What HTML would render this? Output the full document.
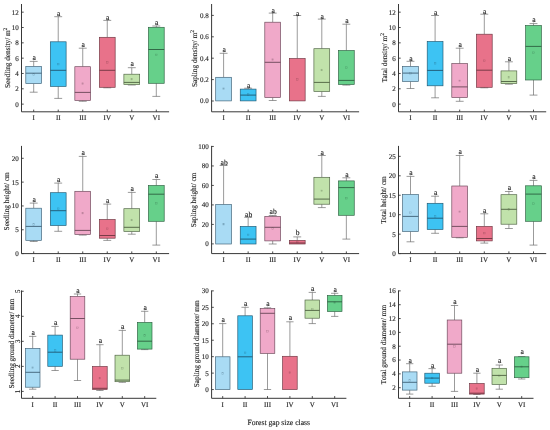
<!DOCTYPE html>
<html lang="en"><head><meta charset="utf-8"><title>Forest gap size class box plots</title>
<style>
html,body{margin:0;padding:0;background:#fff;}
body{width:550px;height:430px;overflow:hidden;}
svg{display:block;font-family:"Liberation Serif","Times New Roman",serif;fill:#222;}
svg text{text-rendering:geometricPrecision;fill:#1e1e1e;stroke:#1e1e1e;stroke-width:0.13px;}
</style></head><body>
<svg width="550" height="430" viewBox="0 0 550 430">
<rect width="550" height="430" fill="#ffffff"/>
<g>
<path d="M33.7 66.4V61.4M29.75 61.4H37.65" stroke="#646464" stroke-width="0.65" fill="none"/>
<path d="M33.7 83.6V92.2M29.75 92.2H37.65" stroke="#646464" stroke-width="0.65" fill="none"/>
<rect x="25.8" y="66.4" width="15.8" height="17.2" fill="#a9dbf4" stroke="#3d5f74" stroke-width="0.65"/>
<path d="M25.8 73.2H41.6" stroke="#3d5f74" stroke-width="0.9"/>
<rect x="32.9" y="73.7" width="1.6" height="1.6" fill="none" stroke="#3d5f74" stroke-opacity="0.4" stroke-width="0.45"/>
<text transform="translate(34.2 60.4) scale(1.0 1)" font-size="7.6" text-anchor="middle">a</text>
<path d="M58.22 41.8V16.7M54.27 16.7H62.17" stroke="#646464" stroke-width="0.65" fill="none"/>
<path d="M58.22 86.4V98.4M54.27 98.4H62.17" stroke="#646464" stroke-width="0.65" fill="none"/>
<rect x="50.32" y="41.8" width="15.8" height="44.6" fill="#3dc3f3" stroke="#20566f" stroke-width="0.65"/>
<path d="M50.32 70.3H66.12" stroke="#20566f" stroke-width="0.9"/>
<rect x="57.42" y="63.3" width="1.6" height="1.6" fill="none" stroke="#20566f" stroke-opacity="0.4" stroke-width="0.45"/>
<text transform="translate(58.72 15.5) scale(1.0 1)" font-size="7.6" text-anchor="middle">a</text>
<path d="M82.74 66.7V48.2M78.79 48.2H86.69" stroke="#646464" stroke-width="0.65" fill="none"/>
<path d="M82.74 100.5V101.3M78.79 101.3H86.69" stroke="#646464" stroke-width="0.65" fill="none"/>
<rect x="74.84" y="66.7" width="15.8" height="33.8" fill="#f0a9c9" stroke="#684556" stroke-width="0.65"/>
<path d="M74.84 92.4H90.64" stroke="#684556" stroke-width="0.9"/>
<rect x="81.94" y="82.8" width="1.6" height="1.6" fill="none" stroke="#684556" stroke-opacity="0.4" stroke-width="0.45"/>
<text transform="translate(83.24 47.3) scale(1.0 1)" font-size="7.6" text-anchor="middle">a</text>
<path d="M107.26 37.3V20.4M103.31 20.4H111.21" stroke="#646464" stroke-width="0.65" fill="none"/>
<path d="M107.26 87.3V87.8M103.31 87.8H111.21" stroke="#646464" stroke-width="0.65" fill="none"/>
<rect x="99.36" y="37.3" width="15.8" height="50" fill="#e8728a" stroke="#6c343f" stroke-width="0.65"/>
<path d="M99.36 70.3H115.16" stroke="#6c343f" stroke-width="0.9"/>
<rect x="106.46" y="61.6" width="1.6" height="1.6" fill="none" stroke="#6c343f" stroke-opacity="0.4" stroke-width="0.45"/>
<text transform="translate(107.76 20.1) scale(1.0 1)" font-size="7.6" text-anchor="middle">a</text>
<path d="M131.78 74.2V67.7M127.83 67.7H135.73" stroke="#646464" stroke-width="0.65" fill="none"/>
<path d="M131.78 84.5V85M127.83 85H135.73" stroke="#646464" stroke-width="0.65" fill="none"/>
<rect x="123.88" y="74.2" width="15.8" height="10.3" fill="#c1e2ab" stroke="#4c6040" stroke-width="0.65"/>
<path d="M123.88 82.4H139.68" stroke="#4c6040" stroke-width="0.9"/>
<rect x="130.98" y="78.3" width="1.6" height="1.6" fill="none" stroke="#4c6040" stroke-opacity="0.4" stroke-width="0.45"/>
<text transform="translate(132.28 66) scale(1.0 1)" font-size="7.6" text-anchor="middle">a</text>
<path d="M156.3 27.3V26M152.35 26H160.25" stroke="#646464" stroke-width="0.65" fill="none"/>
<path d="M156.3 83.3V96.4M152.35 96.4H160.25" stroke="#646464" stroke-width="0.65" fill="none"/>
<rect x="148.4" y="27.3" width="15.8" height="56" fill="#66d08a" stroke="#2d5f40" stroke-width="0.65"/>
<path d="M148.4 49.5H164.2" stroke="#2d5f40" stroke-width="0.9"/>
<rect x="155.5" y="54.1" width="1.6" height="1.6" fill="none" stroke="#2d5f40" stroke-opacity="0.4" stroke-width="0.45"/>
<text transform="translate(156.8 24.6) scale(1.0 1)" font-size="7.6" text-anchor="middle">a</text>
<path d="M21.5 4.5V111.8H168.6" stroke="#383838" stroke-width="1" fill="none" stroke-linecap="square"/>
<path d="M21.5 104.14h2.2M21.5 88.81h2.2M21.5 73.48h2.2M21.5 58.16h2.2M21.5 42.83h2.2M21.5 27.5h2.2M21.5 12.17h2.2M33.7 111.8v-2.2M58.22 111.8v-2.2M82.74 111.8v-2.2M107.26 111.8v-2.2M131.78 111.8v-2.2M156.3 111.8v-2.2" stroke="#383838" stroke-width="0.9" fill="none"/>
<text transform="translate(18.7 106.59) scale(0.97 1)" font-size="7.22" text-anchor="end">0</text>
<text transform="translate(18.7 91.26) scale(0.97 1)" font-size="7.22" text-anchor="end">2</text>
<text transform="translate(18.7 75.93) scale(0.97 1)" font-size="7.22" text-anchor="end">4</text>
<text transform="translate(18.7 60.61) scale(0.97 1)" font-size="7.22" text-anchor="end">6</text>
<text transform="translate(18.7 45.28) scale(0.97 1)" font-size="7.22" text-anchor="end">8</text>
<text transform="translate(18.7 29.95) scale(0.97 1)" font-size="7.22" text-anchor="end">10</text>
<text transform="translate(18.7 14.62) scale(0.97 1)" font-size="7.22" text-anchor="end">12</text>
<text transform="translate(33.7 120.4) scale(0.97 1)" font-size="7.22" text-anchor="middle">I</text>
<text transform="translate(58.22 120.4) scale(0.97 1)" font-size="7.22" text-anchor="middle">II</text>
<text transform="translate(82.74 120.4) scale(0.97 1)" font-size="7.22" text-anchor="middle">III</text>
<text transform="translate(107.26 120.4) scale(0.97 1)" font-size="7.22" text-anchor="middle">IV</text>
<text transform="translate(131.78 120.4) scale(0.97 1)" font-size="7.22" text-anchor="middle">V</text>
<text transform="translate(156.3 120.4) scale(0.97 1)" font-size="7.22" text-anchor="middle">VI</text>
<text transform="translate(9.5 57.8) rotate(-90) scale(0.97 1)" font-size="7.47" text-anchor="middle">Seedling density/ m<tspan dy="-3" font-size="5.6">2</tspan></text>
</g>
<g>
<path d="M223.6 77.3V53.3M219.65 53.3H227.55" stroke="#646464" stroke-width="0.65" fill="none"/>
<rect x="215.7" y="77.3" width="15.8" height="23.6" fill="#a9dbf4" stroke="#3d5f74" stroke-width="0.65"/>
<rect x="222.8" y="87.9" width="1.6" height="1.6" fill="none" stroke="#3d5f74" stroke-opacity="0.4" stroke-width="0.45"/>
<text transform="translate(224.1 52.4) scale(1.0 1)" font-size="7.6" text-anchor="middle">a</text>
<path d="M248.15 89.1V88.2M244.2 88.2H252.1" stroke="#646464" stroke-width="0.65" fill="none"/>
<rect x="240.25" y="89.1" width="15.8" height="11.8" fill="#3dc3f3" stroke="#20566f" stroke-width="0.65"/>
<path d="M240.25 95.1H256.05" stroke="#20566f" stroke-width="0.9"/>
<rect x="247.35" y="93.7" width="1.6" height="1.6" fill="none" stroke="#20566f" stroke-opacity="0.4" stroke-width="0.45"/>
<text transform="translate(248.65 87.6) scale(1.0 1)" font-size="7.6" text-anchor="middle">a</text>
<path d="M272.7 22.2V13.1M268.75 13.1H276.65" stroke="#646464" stroke-width="0.65" fill="none"/>
<path d="M272.7 97.6V100.5M268.75 100.5H276.65" stroke="#646464" stroke-width="0.65" fill="none"/>
<rect x="264.8" y="22.2" width="15.8" height="75.4" fill="#f0a9c9" stroke="#684556" stroke-width="0.65"/>
<path d="M264.8 62.3H280.6" stroke="#684556" stroke-width="0.9"/>
<rect x="271.9" y="58.8" width="1.6" height="1.6" fill="none" stroke="#684556" stroke-opacity="0.4" stroke-width="0.45"/>
<text transform="translate(273.2 13) scale(1.0 1)" font-size="7.6" text-anchor="middle">a</text>
<path d="M297.25 58.5V15.5M293.3 15.5H301.2" stroke="#646464" stroke-width="0.65" fill="none"/>
<rect x="289.35" y="58.5" width="15.8" height="42.4" fill="#e8728a" stroke="#6c343f" stroke-width="0.65"/>
<rect x="296.45" y="78.7" width="1.6" height="1.6" fill="none" stroke="#6c343f" stroke-opacity="0.4" stroke-width="0.45"/>
<text transform="translate(297.75 15.7) scale(1.0 1)" font-size="7.6" text-anchor="middle">a</text>
<path d="M321.8 48.7V19.1M317.85 19.1H325.75" stroke="#646464" stroke-width="0.65" fill="none"/>
<path d="M321.8 91.5V96.4M317.85 96.4H325.75" stroke="#646464" stroke-width="0.65" fill="none"/>
<rect x="313.9" y="48.7" width="15.8" height="42.8" fill="#c1e2ab" stroke="#4c6040" stroke-width="0.65"/>
<path d="M313.9 82.4H329.7" stroke="#4c6040" stroke-width="0.9"/>
<rect x="321" y="69.2" width="1.6" height="1.6" fill="none" stroke="#4c6040" stroke-opacity="0.4" stroke-width="0.45"/>
<text transform="translate(322.3 19) scale(1.0 1)" font-size="7.6" text-anchor="middle">a</text>
<path d="M346.35 50.5V24.2M342.4 24.2H350.3" stroke="#646464" stroke-width="0.65" fill="none"/>
<path d="M346.35 84.5V85.1M342.4 85.1H350.3" stroke="#646464" stroke-width="0.65" fill="none"/>
<rect x="338.45" y="50.5" width="15.8" height="34" fill="#66d08a" stroke="#2d5f40" stroke-width="0.65"/>
<path d="M338.45 80.4H354.25" stroke="#2d5f40" stroke-width="0.9"/>
<rect x="345.55" y="66.8" width="1.6" height="1.6" fill="none" stroke="#2d5f40" stroke-opacity="0.4" stroke-width="0.45"/>
<text transform="translate(346.85 23) scale(1.0 1)" font-size="7.6" text-anchor="middle">a</text>
<path d="M211.6 4.5V111.8H358.6" stroke="#383838" stroke-width="1" fill="none" stroke-linecap="square"/>
<path d="M211.6 101h2.2M211.6 79.6h2.2M211.6 58.2h2.2M211.6 36.8h2.2M211.6 15.4h2.2M223.6 111.8v-2.2M248.15 111.8v-2.2M272.7 111.8v-2.2M297.25 111.8v-2.2M321.8 111.8v-2.2M346.35 111.8v-2.2" stroke="#383838" stroke-width="0.9" fill="none"/>
<text transform="translate(208.8 103.45) scale(0.97 1)" font-size="7.22" text-anchor="end">0.0</text>
<text transform="translate(208.8 82.05) scale(0.97 1)" font-size="7.22" text-anchor="end">0.2</text>
<text transform="translate(208.8 60.65) scale(0.97 1)" font-size="7.22" text-anchor="end">0.4</text>
<text transform="translate(208.8 39.25) scale(0.97 1)" font-size="7.22" text-anchor="end">0.6</text>
<text transform="translate(208.8 17.85) scale(0.97 1)" font-size="7.22" text-anchor="end">0.8</text>
<text transform="translate(223.6 120.4) scale(0.97 1)" font-size="7.22" text-anchor="middle">I</text>
<text transform="translate(248.15 120.4) scale(0.97 1)" font-size="7.22" text-anchor="middle">II</text>
<text transform="translate(272.7 120.4) scale(0.97 1)" font-size="7.22" text-anchor="middle">III</text>
<text transform="translate(297.25 120.4) scale(0.97 1)" font-size="7.22" text-anchor="middle">IV</text>
<text transform="translate(321.8 120.4) scale(0.97 1)" font-size="7.22" text-anchor="middle">V</text>
<text transform="translate(346.35 120.4) scale(0.97 1)" font-size="7.22" text-anchor="middle">VI</text>
<text transform="translate(197.2 58.5) rotate(-90) scale(0.97 1)" font-size="7.47" text-anchor="middle">Sapling density/ m<tspan dy="-3" font-size="5.6">2</tspan></text>
</g>
<g>
<path d="M410.5 66.4V61.3M406.55 61.3H414.45" stroke="#646464" stroke-width="0.65" fill="none"/>
<path d="M410.5 81.5V88.5M406.55 88.5H414.45" stroke="#646464" stroke-width="0.65" fill="none"/>
<rect x="402.6" y="66.4" width="15.8" height="15.1" fill="#a9dbf4" stroke="#3d5f74" stroke-width="0.65"/>
<path d="M402.6 73.1H418.4" stroke="#3d5f74" stroke-width="0.9"/>
<rect x="409.7" y="72.5" width="1.6" height="1.6" fill="none" stroke="#3d5f74" stroke-opacity="0.4" stroke-width="0.45"/>
<text transform="translate(411 60.7) scale(1.0 1)" font-size="7.6" text-anchor="middle">a</text>
<path d="M435.1 41.5V15.5M431.15 15.5H439.05" stroke="#646464" stroke-width="0.65" fill="none"/>
<path d="M435.1 85.8V97.8M431.15 97.8H439.05" stroke="#646464" stroke-width="0.65" fill="none"/>
<rect x="427.2" y="41.5" width="15.8" height="44.3" fill="#3dc3f3" stroke="#20566f" stroke-width="0.65"/>
<path d="M427.2 70.4H443" stroke="#20566f" stroke-width="0.9"/>
<rect x="434.3" y="62.5" width="1.6" height="1.6" fill="none" stroke="#20566f" stroke-opacity="0.4" stroke-width="0.45"/>
<text transform="translate(435.6 15.2) scale(1.0 1)" font-size="7.6" text-anchor="middle">a</text>
<path d="M459.7 63.6V48.2M455.75 48.2H463.65" stroke="#646464" stroke-width="0.65" fill="none"/>
<path d="M459.7 97.6V101.3M455.75 101.3H463.65" stroke="#646464" stroke-width="0.65" fill="none"/>
<rect x="451.8" y="63.6" width="15.8" height="34" fill="#f0a9c9" stroke="#684556" stroke-width="0.65"/>
<path d="M451.8 86.9H467.6" stroke="#684556" stroke-width="0.9"/>
<rect x="458.9" y="80.1" width="1.6" height="1.6" fill="none" stroke="#684556" stroke-opacity="0.4" stroke-width="0.45"/>
<text transform="translate(460.2 47.2) scale(1.0 1)" font-size="7.6" text-anchor="middle">a</text>
<path d="M484.3 34.2V14.2M480.35 14.2H488.25" stroke="#646464" stroke-width="0.65" fill="none"/>
<path d="M484.3 87.3V87.8M480.35 87.8H488.25" stroke="#646464" stroke-width="0.65" fill="none"/>
<rect x="476.4" y="34.2" width="15.8" height="53.1" fill="#e8728a" stroke="#6c343f" stroke-width="0.65"/>
<path d="M476.4 70.2H492.2" stroke="#6c343f" stroke-width="0.9"/>
<rect x="483.5" y="59.9" width="1.6" height="1.6" fill="none" stroke="#6c343f" stroke-opacity="0.4" stroke-width="0.45"/>
<text transform="translate(484.8 14.4) scale(1.0 1)" font-size="7.6" text-anchor="middle">a</text>
<path d="M508.9 70.9V61.8M504.95 61.8H512.85" stroke="#646464" stroke-width="0.65" fill="none"/>
<path d="M508.9 83.6V84.2M504.95 84.2H512.85" stroke="#646464" stroke-width="0.65" fill="none"/>
<rect x="501" y="70.9" width="15.8" height="12.7" fill="#c1e2ab" stroke="#4c6040" stroke-width="0.65"/>
<path d="M501 81.5H516.8" stroke="#4c6040" stroke-width="0.9"/>
<rect x="508.1" y="76.5" width="1.6" height="1.6" fill="none" stroke="#4c6040" stroke-opacity="0.4" stroke-width="0.45"/>
<text transform="translate(509.4 61.3) scale(1.0 1)" font-size="7.6" text-anchor="middle">a</text>
<path d="M533.5 25.5V23.6M529.55 23.6H537.45" stroke="#646464" stroke-width="0.65" fill="none"/>
<path d="M533.5 80V95.1M529.55 95.1H537.45" stroke="#646464" stroke-width="0.65" fill="none"/>
<rect x="525.6" y="25.5" width="15.8" height="54.5" fill="#66d08a" stroke="#2d5f40" stroke-width="0.65"/>
<path d="M525.6 46.4H541.4" stroke="#2d5f40" stroke-width="0.9"/>
<rect x="532.7" y="51.9" width="1.6" height="1.6" fill="none" stroke="#2d5f40" stroke-opacity="0.4" stroke-width="0.45"/>
<text transform="translate(534 21.8) scale(1.0 1)" font-size="7.6" text-anchor="middle">a</text>
<path d="M398.5 4.5V111.8H545.7" stroke="#383838" stroke-width="1" fill="none" stroke-linecap="square"/>
<path d="M398.5 104.14h2.2M398.5 88.81h2.2M398.5 73.48h2.2M398.5 58.16h2.2M398.5 42.83h2.2M398.5 27.5h2.2M398.5 12.17h2.2M410.5 111.8v-2.2M435.1 111.8v-2.2M459.7 111.8v-2.2M484.3 111.8v-2.2M508.9 111.8v-2.2M533.5 111.8v-2.2" stroke="#383838" stroke-width="0.9" fill="none"/>
<text transform="translate(395.7 106.59) scale(0.97 1)" font-size="7.22" text-anchor="end">0</text>
<text transform="translate(395.7 91.26) scale(0.97 1)" font-size="7.22" text-anchor="end">2</text>
<text transform="translate(395.7 75.93) scale(0.97 1)" font-size="7.22" text-anchor="end">4</text>
<text transform="translate(395.7 60.61) scale(0.97 1)" font-size="7.22" text-anchor="end">6</text>
<text transform="translate(395.7 45.28) scale(0.97 1)" font-size="7.22" text-anchor="end">8</text>
<text transform="translate(395.7 29.95) scale(0.97 1)" font-size="7.22" text-anchor="end">10</text>
<text transform="translate(395.7 14.62) scale(0.97 1)" font-size="7.22" text-anchor="end">12</text>
<text transform="translate(410.5 120.4) scale(0.97 1)" font-size="7.22" text-anchor="middle">I</text>
<text transform="translate(435.1 120.4) scale(0.97 1)" font-size="7.22" text-anchor="middle">II</text>
<text transform="translate(459.7 120.4) scale(0.97 1)" font-size="7.22" text-anchor="middle">III</text>
<text transform="translate(484.3 120.4) scale(0.97 1)" font-size="7.22" text-anchor="middle">IV</text>
<text transform="translate(508.9 120.4) scale(0.97 1)" font-size="7.22" text-anchor="middle">V</text>
<text transform="translate(533.5 120.4) scale(0.97 1)" font-size="7.22" text-anchor="middle">VI</text>
<text transform="translate(386.8 57.7) rotate(-90) scale(0.97 1)" font-size="7.47" text-anchor="middle">Tatal density/ m<tspan dy="-3" font-size="5.6">2</tspan></text>
</g>
<g>
<path d="M33.7 208.2V203.1M29.75 203.1H37.65" stroke="#646464" stroke-width="0.65" fill="none"/>
<path d="M33.7 240.4V241.5M29.75 241.5H37.65" stroke="#646464" stroke-width="0.65" fill="none"/>
<rect x="25.8" y="208.2" width="15.8" height="32.2" fill="#a9dbf4" stroke="#3d5f74" stroke-width="0.65"/>
<path d="M25.8 226.4H41.6" stroke="#3d5f74" stroke-width="0.9"/>
<rect x="32.9" y="223.7" width="1.6" height="1.6" fill="none" stroke="#3d5f74" stroke-opacity="0.4" stroke-width="0.45"/>
<text transform="translate(34.2 201.8) scale(1.0 1)" font-size="7.6" text-anchor="middle">a</text>
<path d="M58.22 192.7V183.1M54.27 183.1H62.17" stroke="#646464" stroke-width="0.65" fill="none"/>
<path d="M58.22 225.5V231.3M54.27 231.3H62.17" stroke="#646464" stroke-width="0.65" fill="none"/>
<rect x="50.32" y="192.7" width="15.8" height="32.8" fill="#3dc3f3" stroke="#20566f" stroke-width="0.65"/>
<path d="M50.32 210.7H66.12" stroke="#20566f" stroke-width="0.9"/>
<rect x="57.42" y="207.9" width="1.6" height="1.6" fill="none" stroke="#20566f" stroke-opacity="0.4" stroke-width="0.45"/>
<text transform="translate(58.72 181.8) scale(1.0 1)" font-size="7.6" text-anchor="middle">a</text>
<path d="M82.74 191.3V156.4M78.79 156.4H86.69" stroke="#646464" stroke-width="0.65" fill="none"/>
<path d="M82.74 234.5V235.1M78.79 235.1H86.69" stroke="#646464" stroke-width="0.65" fill="none"/>
<rect x="74.84" y="191.3" width="15.8" height="43.2" fill="#f0a9c9" stroke="#684556" stroke-width="0.65"/>
<path d="M74.84 230.4H90.64" stroke="#684556" stroke-width="0.9"/>
<rect x="81.94" y="212.3" width="1.6" height="1.6" fill="none" stroke="#684556" stroke-opacity="0.4" stroke-width="0.45"/>
<text transform="translate(83.24 155.1) scale(1.0 1)" font-size="7.6" text-anchor="middle">a</text>
<path d="M107.26 219.5V204.1M103.31 204.1H111.21" stroke="#646464" stroke-width="0.65" fill="none"/>
<path d="M107.26 238.2V240.4M103.31 240.4H111.21" stroke="#646464" stroke-width="0.65" fill="none"/>
<rect x="99.36" y="219.5" width="15.8" height="18.7" fill="#e8728a" stroke="#6c343f" stroke-width="0.65"/>
<path d="M99.36 235.5H115.16" stroke="#6c343f" stroke-width="0.9"/>
<rect x="106.46" y="227.9" width="1.6" height="1.6" fill="none" stroke="#6c343f" stroke-opacity="0.4" stroke-width="0.45"/>
<text transform="translate(107.76 202.8) scale(1.0 1)" font-size="7.6" text-anchor="middle">a</text>
<path d="M131.78 208.7V192.4M127.83 192.4H135.73" stroke="#646464" stroke-width="0.65" fill="none"/>
<path d="M131.78 231.5V234.2M127.83 234.2H135.73" stroke="#646464" stroke-width="0.65" fill="none"/>
<rect x="123.88" y="208.7" width="15.8" height="22.8" fill="#c1e2ab" stroke="#4c6040" stroke-width="0.65"/>
<path d="M123.88 227.3H139.68" stroke="#4c6040" stroke-width="0.9"/>
<rect x="130.98" y="219.2" width="1.6" height="1.6" fill="none" stroke="#4c6040" stroke-opacity="0.4" stroke-width="0.45"/>
<text transform="translate(132.28 191.1) scale(1.0 1)" font-size="7.6" text-anchor="middle">a</text>
<path d="M156.3 185.5V179.5M152.35 179.5H160.25" stroke="#646464" stroke-width="0.65" fill="none"/>
<path d="M156.3 221.3V245.1M152.35 245.1H160.25" stroke="#646464" stroke-width="0.65" fill="none"/>
<rect x="148.4" y="185.5" width="15.8" height="35.8" fill="#66d08a" stroke="#2d5f40" stroke-width="0.65"/>
<path d="M148.4 194.2H164.2" stroke="#2d5f40" stroke-width="0.9"/>
<rect x="155.5" y="202.5" width="1.6" height="1.6" fill="none" stroke="#2d5f40" stroke-opacity="0.4" stroke-width="0.45"/>
<text transform="translate(156.8 178.2) scale(1.0 1)" font-size="7.6" text-anchor="middle">a</text>
<path d="M21.5 146.4V253.6H168.6" stroke="#383838" stroke-width="1" fill="none" stroke-linecap="square"/>
<path d="M21.5 253.6h2.2M21.5 229.78h2.2M21.5 205.95h2.2M21.5 182.12h2.2M21.5 158.3h2.2M33.7 253.6v-2.2M58.22 253.6v-2.2M82.74 253.6v-2.2M107.26 253.6v-2.2M131.78 253.6v-2.2M156.3 253.6v-2.2" stroke="#383838" stroke-width="0.9" fill="none"/>
<text transform="translate(18.7 256.05) scale(0.97 1)" font-size="7.22" text-anchor="end">0</text>
<text transform="translate(18.7 232.22) scale(0.97 1)" font-size="7.22" text-anchor="end">5</text>
<text transform="translate(18.7 208.4) scale(0.97 1)" font-size="7.22" text-anchor="end">10</text>
<text transform="translate(18.7 184.57) scale(0.97 1)" font-size="7.22" text-anchor="end">15</text>
<text transform="translate(18.7 160.75) scale(0.97 1)" font-size="7.22" text-anchor="end">20</text>
<text transform="translate(33.7 262.2) scale(0.97 1)" font-size="7.22" text-anchor="middle">I</text>
<text transform="translate(58.22 262.2) scale(0.97 1)" font-size="7.22" text-anchor="middle">II</text>
<text transform="translate(82.74 262.2) scale(0.97 1)" font-size="7.22" text-anchor="middle">III</text>
<text transform="translate(107.26 262.2) scale(0.97 1)" font-size="7.22" text-anchor="middle">IV</text>
<text transform="translate(131.78 262.2) scale(0.97 1)" font-size="7.22" text-anchor="middle">V</text>
<text transform="translate(156.3 262.2) scale(0.97 1)" font-size="7.22" text-anchor="middle">VI</text>
<text transform="translate(9.4 201.4) rotate(-90) scale(0.97 1)" font-size="7.47" text-anchor="middle">Seedling height/ cm</text>
</g>
<g>
<path d="M223.6 204.5V165.5M219.65 165.5H227.55" stroke="#646464" stroke-width="0.65" fill="none"/>
<rect x="215.7" y="204.5" width="15.8" height="39.5" fill="#a9dbf4" stroke="#3d5f74" stroke-width="0.65"/>
<rect x="222.8" y="223.4" width="1.6" height="1.6" fill="none" stroke="#3d5f74" stroke-opacity="0.4" stroke-width="0.45"/>
<text transform="translate(224.1 164.6) scale(1.0 1)" font-size="7.6" text-anchor="middle">ab</text>
<path d="M248.15 226.4V217.3M244.2 217.3H252.1" stroke="#646464" stroke-width="0.65" fill="none"/>
<rect x="240.25" y="226.4" width="15.8" height="17.6" fill="#3dc3f3" stroke="#20566f" stroke-width="0.65"/>
<path d="M240.25 239.1H256.05" stroke="#20566f" stroke-width="0.9"/>
<rect x="247.35" y="234.1" width="1.6" height="1.6" fill="none" stroke="#20566f" stroke-opacity="0.4" stroke-width="0.45"/>
<text transform="translate(248.65 216.5) scale(1.0 1)" font-size="7.6" text-anchor="middle">ab</text>
<path d="M272.7 216.4V215.5M268.75 215.5H276.65" stroke="#646464" stroke-width="0.65" fill="none"/>
<path d="M272.7 240.9V244M268.75 244H276.65" stroke="#646464" stroke-width="0.65" fill="none"/>
<rect x="264.8" y="216.4" width="15.8" height="24.5" fill="#f0a9c9" stroke="#684556" stroke-width="0.65"/>
<path d="M264.8 227.3H280.6" stroke="#684556" stroke-width="0.9"/>
<rect x="271.9" y="227.7" width="1.6" height="1.6" fill="none" stroke="#684556" stroke-opacity="0.4" stroke-width="0.45"/>
<text transform="translate(273.2 213.9) scale(1.0 1)" font-size="7.6" text-anchor="middle">ab</text>
<path d="M297.25 240.4V236.9M293.3 236.9H301.2" stroke="#646464" stroke-width="0.65" fill="none"/>
<rect x="289.35" y="240.4" width="15.8" height="3.6" fill="#e8728a" stroke="#6c343f" stroke-width="0.65"/>
<path d="M289.35 243H305.15" stroke="#6c343f" stroke-width="0.9"/>
<rect x="296.45" y="241.2" width="1.6" height="1.6" fill="none" stroke="#6c343f" stroke-opacity="0.4" stroke-width="0.45"/>
<text transform="translate(297.75 235.1) scale(1.0 1)" font-size="7.6" text-anchor="middle">b</text>
<path d="M321.8 177.3V155.5M317.85 155.5H325.75" stroke="#646464" stroke-width="0.65" fill="none"/>
<path d="M321.8 204.2V207.6M317.85 207.6H325.75" stroke="#646464" stroke-width="0.65" fill="none"/>
<rect x="313.9" y="177.3" width="15.8" height="26.9" fill="#c1e2ab" stroke="#4c6040" stroke-width="0.65"/>
<path d="M313.9 199.1H329.7" stroke="#4c6040" stroke-width="0.9"/>
<rect x="321" y="190.1" width="1.6" height="1.6" fill="none" stroke="#4c6040" stroke-opacity="0.4" stroke-width="0.45"/>
<text transform="translate(322.3 154.6) scale(1.0 1)" font-size="7.6" text-anchor="middle">a</text>
<path d="M346.35 180.9V177.8M342.4 177.8H350.3" stroke="#646464" stroke-width="0.65" fill="none"/>
<path d="M346.35 215.3V239.1M342.4 239.1H350.3" stroke="#646464" stroke-width="0.65" fill="none"/>
<rect x="338.45" y="180.9" width="15.8" height="34.4" fill="#66d08a" stroke="#2d5f40" stroke-width="0.65"/>
<path d="M338.45 187.6H354.25" stroke="#2d5f40" stroke-width="0.9"/>
<rect x="345.55" y="197.4" width="1.6" height="1.6" fill="none" stroke="#2d5f40" stroke-opacity="0.4" stroke-width="0.45"/>
<text transform="translate(346.85 176.9) scale(1.0 1)" font-size="7.6" text-anchor="middle">a</text>
<path d="M211.6 146.4V253.6H358.6" stroke="#383838" stroke-width="1" fill="none" stroke-linecap="square"/>
<path d="M211.6 243.9h2.2M211.6 224.41h2.2M211.6 204.92h2.2M211.6 185.43h2.2M211.6 165.94h2.2M211.6 146.45h2.2M223.6 253.6v-2.2M248.15 253.6v-2.2M272.7 253.6v-2.2M297.25 253.6v-2.2M321.8 253.6v-2.2M346.35 253.6v-2.2" stroke="#383838" stroke-width="0.9" fill="none"/>
<text transform="translate(208.8 246.35) scale(0.97 1)" font-size="7.22" text-anchor="end">0</text>
<text transform="translate(208.8 226.86) scale(0.97 1)" font-size="7.22" text-anchor="end">20</text>
<text transform="translate(208.8 207.37) scale(0.97 1)" font-size="7.22" text-anchor="end">40</text>
<text transform="translate(208.8 187.88) scale(0.97 1)" font-size="7.22" text-anchor="end">60</text>
<text transform="translate(208.8 168.39) scale(0.97 1)" font-size="7.22" text-anchor="end">80</text>
<text transform="translate(208.8 148.9) scale(0.97 1)" font-size="7.22" text-anchor="end">100</text>
<text transform="translate(223.6 262.2) scale(0.97 1)" font-size="7.22" text-anchor="middle">I</text>
<text transform="translate(248.15 262.2) scale(0.97 1)" font-size="7.22" text-anchor="middle">II</text>
<text transform="translate(272.7 262.2) scale(0.97 1)" font-size="7.22" text-anchor="middle">III</text>
<text transform="translate(297.25 262.2) scale(0.97 1)" font-size="7.22" text-anchor="middle">IV</text>
<text transform="translate(321.8 262.2) scale(0.97 1)" font-size="7.22" text-anchor="middle">V</text>
<text transform="translate(346.35 262.2) scale(0.97 1)" font-size="7.22" text-anchor="middle">VI</text>
<text transform="translate(195.7 200) rotate(-90) scale(0.97 1)" font-size="7.47" text-anchor="middle">Sapling height/ cm</text>
</g>
<g>
<path d="M410.5 194.5V176.4M406.55 176.4H414.45" stroke="#646464" stroke-width="0.65" fill="none"/>
<path d="M410.5 231.5V241.8M406.55 241.8H414.45" stroke="#646464" stroke-width="0.65" fill="none"/>
<rect x="402.6" y="194.5" width="15.8" height="37" fill="#a9dbf4" stroke="#3d5f74" stroke-width="0.65"/>
<path d="M402.6 216.4H418.4" stroke="#3d5f74" stroke-width="0.9"/>
<rect x="409.7" y="211.9" width="1.6" height="1.6" fill="none" stroke="#3d5f74" stroke-opacity="0.4" stroke-width="0.45"/>
<text transform="translate(411 175.2) scale(1.0 1)" font-size="7.6" text-anchor="middle">a</text>
<path d="M435.1 203.3V196.2M431.15 196.2H439.05" stroke="#646464" stroke-width="0.65" fill="none"/>
<path d="M435.1 229.5V233.3M431.15 233.3H439.05" stroke="#646464" stroke-width="0.65" fill="none"/>
<rect x="427.2" y="203.3" width="15.8" height="26.2" fill="#3dc3f3" stroke="#20566f" stroke-width="0.65"/>
<path d="M427.2 218.2H443" stroke="#20566f" stroke-width="0.9"/>
<rect x="434.3" y="215.6" width="1.6" height="1.6" fill="none" stroke="#20566f" stroke-opacity="0.4" stroke-width="0.45"/>
<text transform="translate(435.6 195) scale(1.0 1)" font-size="7.6" text-anchor="middle">a</text>
<path d="M459.7 186V155.5M455.75 155.5H463.65" stroke="#646464" stroke-width="0.65" fill="none"/>
<path d="M459.7 237.3V237.8M455.75 237.8H463.65" stroke="#646464" stroke-width="0.65" fill="none"/>
<rect x="451.8" y="186" width="15.8" height="51.3" fill="#f0a9c9" stroke="#684556" stroke-width="0.65"/>
<path d="M451.8 226.4H467.6" stroke="#684556" stroke-width="0.9"/>
<rect x="458.9" y="211" width="1.6" height="1.6" fill="none" stroke="#684556" stroke-opacity="0.4" stroke-width="0.45"/>
<text transform="translate(460.2 154.3) scale(1.0 1)" font-size="7.6" text-anchor="middle">a</text>
<path d="M484.3 226.4V213.8M480.35 213.8H488.25" stroke="#646464" stroke-width="0.65" fill="none"/>
<path d="M484.3 240.9V243.1M480.35 243.1H488.25" stroke="#646464" stroke-width="0.65" fill="none"/>
<rect x="476.4" y="226.4" width="15.8" height="14.5" fill="#e8728a" stroke="#6c343f" stroke-width="0.65"/>
<path d="M476.4 238.5H492.2" stroke="#6c343f" stroke-width="0.9"/>
<rect x="483.5" y="232.3" width="1.6" height="1.6" fill="none" stroke="#6c343f" stroke-opacity="0.4" stroke-width="0.45"/>
<text transform="translate(484.8 212.6) scale(1.0 1)" font-size="7.6" text-anchor="middle">a</text>
<path d="M508.9 194.7V191.5M504.95 191.5H512.85" stroke="#646464" stroke-width="0.65" fill="none"/>
<path d="M508.9 224.2V228.5M504.95 228.5H512.85" stroke="#646464" stroke-width="0.65" fill="none"/>
<rect x="501" y="194.7" width="15.8" height="29.5" fill="#c1e2ab" stroke="#4c6040" stroke-width="0.65"/>
<path d="M501 209.3H516.8" stroke="#4c6040" stroke-width="0.9"/>
<rect x="508.1" y="208.7" width="1.6" height="1.6" fill="none" stroke="#4c6040" stroke-opacity="0.4" stroke-width="0.45"/>
<text transform="translate(509.4 190.3) scale(1.0 1)" font-size="7.6" text-anchor="middle">a</text>
<path d="M533.5 185.8V180.4M529.55 180.4H537.45" stroke="#646464" stroke-width="0.65" fill="none"/>
<path d="M533.5 221.3V245.1M529.55 245.1H537.45" stroke="#646464" stroke-width="0.65" fill="none"/>
<rect x="525.6" y="185.8" width="15.8" height="35.5" fill="#66d08a" stroke="#2d5f40" stroke-width="0.65"/>
<path d="M525.6 194.1H541.4" stroke="#2d5f40" stroke-width="0.9"/>
<rect x="532.7" y="202.8" width="1.6" height="1.6" fill="none" stroke="#2d5f40" stroke-opacity="0.4" stroke-width="0.45"/>
<text transform="translate(534 179.2) scale(1.0 1)" font-size="7.6" text-anchor="middle">a</text>
<path d="M398.5 146.4V253.6H545.7" stroke="#383838" stroke-width="1" fill="none" stroke-linecap="square"/>
<path d="M398.5 253.6h2.2M398.5 234.15h2.2M398.5 214.7h2.2M398.5 195.25h2.2M398.5 175.8h2.2M398.5 156.35h2.2M410.5 253.6v-2.2M435.1 253.6v-2.2M459.7 253.6v-2.2M484.3 253.6v-2.2M508.9 253.6v-2.2M533.5 253.6v-2.2" stroke="#383838" stroke-width="0.9" fill="none"/>
<text transform="translate(395.7 256.05) scale(0.97 1)" font-size="7.22" text-anchor="end">0</text>
<text transform="translate(395.7 236.6) scale(0.97 1)" font-size="7.22" text-anchor="end">5</text>
<text transform="translate(395.7 217.15) scale(0.97 1)" font-size="7.22" text-anchor="end">10</text>
<text transform="translate(395.7 197.7) scale(0.97 1)" font-size="7.22" text-anchor="end">15</text>
<text transform="translate(395.7 178.25) scale(0.97 1)" font-size="7.22" text-anchor="end">20</text>
<text transform="translate(395.7 158.8) scale(0.97 1)" font-size="7.22" text-anchor="end">25</text>
<text transform="translate(410.5 262.2) scale(0.97 1)" font-size="7.22" text-anchor="middle">I</text>
<text transform="translate(435.1 262.2) scale(0.97 1)" font-size="7.22" text-anchor="middle">II</text>
<text transform="translate(459.7 262.2) scale(0.97 1)" font-size="7.22" text-anchor="middle">III</text>
<text transform="translate(484.3 262.2) scale(0.97 1)" font-size="7.22" text-anchor="middle">IV</text>
<text transform="translate(508.9 262.2) scale(0.97 1)" font-size="7.22" text-anchor="middle">V</text>
<text transform="translate(533.5 262.2) scale(0.97 1)" font-size="7.22" text-anchor="middle">VI</text>
<text transform="translate(386.3 200) rotate(-90) scale(0.97 1)" font-size="7.47" text-anchor="middle">Total height/ cm</text>
</g>
<g>
<path d="M32.7 348.4V336.4M29.05 336.4H36.35" stroke="#646464" stroke-width="0.65" fill="none"/>
<path d="M32.7 387.2V389.2M29.05 389.2H36.35" stroke="#646464" stroke-width="0.65" fill="none"/>
<rect x="25.4" y="348.4" width="14.6" height="38.8" fill="#a9dbf4" stroke="#3d5f74" stroke-width="0.65"/>
<path d="M25.4 372.3H40" stroke="#3d5f74" stroke-width="0.9"/>
<rect x="31.9" y="366.9" width="1.6" height="1.6" fill="none" stroke="#3d5f74" stroke-opacity="0.4" stroke-width="0.45"/>
<text transform="translate(33.2 334.9) scale(1.0 1)" font-size="7.6" text-anchor="middle">a</text>
<path d="M55.1 335.1V326.4M51.45 326.4H58.75" stroke="#646464" stroke-width="0.65" fill="none"/>
<path d="M55.1 366.3V370.5M51.45 370.5H58.75" stroke="#646464" stroke-width="0.65" fill="none"/>
<rect x="47.8" y="335.1" width="14.6" height="31.2" fill="#3dc3f3" stroke="#20566f" stroke-width="0.65"/>
<path d="M47.8 352.2H62.4" stroke="#20566f" stroke-width="0.9"/>
<rect x="54.3" y="349.7" width="1.6" height="1.6" fill="none" stroke="#20566f" stroke-opacity="0.4" stroke-width="0.45"/>
<text transform="translate(55.6 324.9) scale(1.0 1)" font-size="7.6" text-anchor="middle">a</text>
<path d="M77.5 296.4V294M73.85 294H81.15" stroke="#646464" stroke-width="0.65" fill="none"/>
<path d="M77.5 359.2V380.5M73.85 380.5H81.15" stroke="#646464" stroke-width="0.65" fill="none"/>
<rect x="70.2" y="296.4" width="14.6" height="62.8" fill="#f0a9c9" stroke="#684556" stroke-width="0.65"/>
<path d="M70.2 318.5H84.8" stroke="#684556" stroke-width="0.9"/>
<rect x="76.7" y="327" width="1.6" height="1.6" fill="none" stroke="#684556" stroke-opacity="0.4" stroke-width="0.45"/>
<text transform="translate(78 292.5) scale(1.0 1)" font-size="7.6" text-anchor="middle">a</text>
<path d="M99.9 366.5V344.7M96.25 344.7H103.55" stroke="#646464" stroke-width="0.65" fill="none"/>
<path d="M99.9 389.5V390.5M96.25 390.5H103.55" stroke="#646464" stroke-width="0.65" fill="none"/>
<rect x="92.6" y="366.5" width="14.6" height="23" fill="#e8728a" stroke="#6c343f" stroke-width="0.65"/>
<path d="M92.6 388.3H107.2" stroke="#6c343f" stroke-width="0.9"/>
<rect x="99.1" y="377.3" width="1.6" height="1.6" fill="none" stroke="#6c343f" stroke-opacity="0.4" stroke-width="0.45"/>
<text transform="translate(100.4 343.2) scale(1.0 1)" font-size="7.6" text-anchor="middle">a</text>
<path d="M122.3 355.2V330.4M118.65 330.4H125.95" stroke="#646464" stroke-width="0.65" fill="none"/>
<path d="M122.3 381.7V382.3M118.65 382.3H125.95" stroke="#646464" stroke-width="0.65" fill="none"/>
<rect x="115" y="355.2" width="14.6" height="26.5" fill="#c1e2ab" stroke="#4c6040" stroke-width="0.65"/>
<path d="M115 380.1H129.6" stroke="#4c6040" stroke-width="0.9"/>
<rect x="121.5" y="367.5" width="1.6" height="1.6" fill="none" stroke="#4c6040" stroke-opacity="0.4" stroke-width="0.45"/>
<text transform="translate(122.8 328.9) scale(1.0 1)" font-size="7.6" text-anchor="middle">a</text>
<path d="M144.7 322.4V311.3M141.05 311.3H148.35" stroke="#646464" stroke-width="0.65" fill="none"/>
<path d="M144.7 349.1V349.6M141.05 349.6H148.35" stroke="#646464" stroke-width="0.65" fill="none"/>
<rect x="137.4" y="322.4" width="14.6" height="26.7" fill="#66d08a" stroke="#2d5f40" stroke-width="0.65"/>
<path d="M137.4 341.2H152" stroke="#2d5f40" stroke-width="0.9"/>
<rect x="143.9" y="334.7" width="1.6" height="1.6" fill="none" stroke="#2d5f40" stroke-opacity="0.4" stroke-width="0.45"/>
<text transform="translate(145.2 309.8) scale(1.0 1)" font-size="7.6" text-anchor="middle">a</text>
<path d="M21.5 290.9V398.3H155.8" stroke="#383838" stroke-width="1" fill="none" stroke-linecap="square"/>
<path d="M21.5 391.4h2.2M21.5 366.37h2.2M21.5 341.34h2.2M21.5 316.31h2.2M21.5 291.28h2.2M32.7 398.3v-2.2M55.1 398.3v-2.2M77.5 398.3v-2.2M99.9 398.3v-2.2M122.3 398.3v-2.2M144.7 398.3v-2.2" stroke="#383838" stroke-width="0.9" fill="none"/>
<text transform="translate(19.8 391.4) rotate(-90) scale(0.97 1)" font-size="7.22" text-anchor="middle">1</text>
<text transform="translate(19.8 366.37) rotate(-90) scale(0.97 1)" font-size="7.22" text-anchor="middle">2</text>
<text transform="translate(19.8 341.34) rotate(-90) scale(0.97 1)" font-size="7.22" text-anchor="middle">3</text>
<text transform="translate(19.8 316.31) rotate(-90) scale(0.97 1)" font-size="7.22" text-anchor="middle">4</text>
<text transform="translate(19.8 291.28) rotate(-90) scale(0.97 1)" font-size="7.22" text-anchor="middle">5</text>
<text transform="translate(32.7 406.9) scale(0.97 1)" font-size="7.22" text-anchor="middle">I</text>
<text transform="translate(55.1 406.9) scale(0.97 1)" font-size="7.22" text-anchor="middle">II</text>
<text transform="translate(77.5 406.9) scale(0.97 1)" font-size="7.22" text-anchor="middle">III</text>
<text transform="translate(99.9 406.9) scale(0.97 1)" font-size="7.22" text-anchor="middle">IV</text>
<text transform="translate(122.3 406.9) scale(0.97 1)" font-size="7.22" text-anchor="middle">V</text>
<text transform="translate(144.7 406.9) scale(0.97 1)" font-size="7.22" text-anchor="middle">VI</text>
<text transform="translate(13.6 343.6) rotate(-90) scale(0.97 1)" font-size="7.47" text-anchor="middle">Seedling ground diameter/ mm</text>
</g>
<g>
<path d="M222.7 356.8V323.6M219.05 323.6H226.35" stroke="#646464" stroke-width="0.65" fill="none"/>
<rect x="215.4" y="356.8" width="14.6" height="32.7" fill="#a9dbf4" stroke="#3d5f74" stroke-width="0.65"/>
<rect x="221.9" y="372.7" width="1.6" height="1.6" fill="none" stroke="#3d5f74" stroke-opacity="0.4" stroke-width="0.45"/>
<text transform="translate(223.2 321.8) scale(1.0 1)" font-size="7.6" text-anchor="middle">a</text>
<path d="M245.1 315.8V307.3M241.45 307.3H248.75" stroke="#646464" stroke-width="0.65" fill="none"/>
<rect x="237.8" y="315.8" width="14.6" height="73.7" fill="#3dc3f3" stroke="#20566f" stroke-width="0.65"/>
<path d="M237.8 356.8H252.4" stroke="#20566f" stroke-width="0.9"/>
<rect x="244.3" y="352" width="1.6" height="1.6" fill="none" stroke="#20566f" stroke-opacity="0.4" stroke-width="0.45"/>
<text transform="translate(245.6 305.5) scale(1.0 1)" font-size="7.6" text-anchor="middle">a</text>
<path d="M267.5 308.5V307.8M263.85 307.8H271.15" stroke="#646464" stroke-width="0.65" fill="none"/>
<path d="M267.5 353.4V389.5M263.85 389.5H271.15" stroke="#646464" stroke-width="0.65" fill="none"/>
<rect x="260.2" y="308.5" width="14.6" height="44.9" fill="#f0a9c9" stroke="#684556" stroke-width="0.65"/>
<path d="M260.2 313.3H274.8" stroke="#684556" stroke-width="0.9"/>
<rect x="266.7" y="330.5" width="1.6" height="1.6" fill="none" stroke="#684556" stroke-opacity="0.4" stroke-width="0.45"/>
<text transform="translate(268 306) scale(1.0 1)" font-size="7.6" text-anchor="middle">a</text>
<path d="M289.9 356.3V321.8M286.25 321.8H293.55" stroke="#646464" stroke-width="0.65" fill="none"/>
<rect x="282.6" y="356.3" width="14.6" height="33.2" fill="#e8728a" stroke="#6c343f" stroke-width="0.65"/>
<rect x="289.1" y="371.8" width="1.6" height="1.6" fill="none" stroke="#6c343f" stroke-opacity="0.4" stroke-width="0.45"/>
<text transform="translate(290.4 320) scale(1.0 1)" font-size="7.6" text-anchor="middle">a</text>
<path d="M312.3 300V292.4M308.65 292.4H315.95" stroke="#646464" stroke-width="0.65" fill="none"/>
<path d="M312.3 318.2V323.6M308.65 323.6H315.95" stroke="#646464" stroke-width="0.65" fill="none"/>
<rect x="305" y="300" width="14.6" height="18.2" fill="#c1e2ab" stroke="#4c6040" stroke-width="0.65"/>
<path d="M305 310.4H319.6" stroke="#4c6040" stroke-width="0.9"/>
<rect x="311.5" y="308.3" width="1.6" height="1.6" fill="none" stroke="#4c6040" stroke-opacity="0.4" stroke-width="0.45"/>
<text transform="translate(312.8 290.6) scale(1.0 1)" font-size="7.6" text-anchor="middle">a</text>
<path d="M334.7 295.5V293.3M331.05 293.3H338.35" stroke="#646464" stroke-width="0.65" fill="none"/>
<path d="M334.7 311.5V316.4M331.05 316.4H338.35" stroke="#646464" stroke-width="0.65" fill="none"/>
<rect x="327.4" y="295.5" width="14.6" height="16" fill="#66d08a" stroke="#2d5f40" stroke-width="0.65"/>
<path d="M327.4 301.8H342" stroke="#2d5f40" stroke-width="0.9"/>
<rect x="333.9" y="301.9" width="1.6" height="1.6" fill="none" stroke="#2d5f40" stroke-opacity="0.4" stroke-width="0.45"/>
<text transform="translate(335.2 291.5) scale(1.0 1)" font-size="7.6" text-anchor="middle">a</text>
<path d="M211.6 290.9V398.3H345.9" stroke="#383838" stroke-width="1" fill="none" stroke-linecap="square"/>
<path d="M211.6 389.55h2.2M211.6 373.11h2.2M211.6 356.66h2.2M211.6 340.22h2.2M211.6 323.77h2.2M211.6 307.32h2.2M211.6 290.88h2.2M222.7 398.3v-2.2M245.1 398.3v-2.2M267.5 398.3v-2.2M289.9 398.3v-2.2M312.3 398.3v-2.2M334.7 398.3v-2.2" stroke="#383838" stroke-width="0.9" fill="none"/>
<text transform="translate(208.8 392) scale(0.97 1)" font-size="7.22" text-anchor="end">0</text>
<text transform="translate(208.8 375.56) scale(0.97 1)" font-size="7.22" text-anchor="end">5</text>
<text transform="translate(208.8 359.11) scale(0.97 1)" font-size="7.22" text-anchor="end">10</text>
<text transform="translate(208.8 342.67) scale(0.97 1)" font-size="7.22" text-anchor="end">15</text>
<text transform="translate(208.8 326.22) scale(0.97 1)" font-size="7.22" text-anchor="end">20</text>
<text transform="translate(208.8 309.77) scale(0.97 1)" font-size="7.22" text-anchor="end">25</text>
<text transform="translate(208.8 293.33) scale(0.97 1)" font-size="7.22" text-anchor="end">30</text>
<text transform="translate(222.7 406.9) scale(0.97 1)" font-size="7.22" text-anchor="middle">I</text>
<text transform="translate(245.1 406.9) scale(0.97 1)" font-size="7.22" text-anchor="middle">II</text>
<text transform="translate(267.5 406.9) scale(0.97 1)" font-size="7.22" text-anchor="middle">III</text>
<text transform="translate(289.9 406.9) scale(0.97 1)" font-size="7.22" text-anchor="middle">IV</text>
<text transform="translate(312.3 406.9) scale(0.97 1)" font-size="7.22" text-anchor="middle">V</text>
<text transform="translate(334.7 406.9) scale(0.97 1)" font-size="7.22" text-anchor="middle">VI</text>
<text transform="translate(198.8 343.8) rotate(-90) scale(0.97 1)" font-size="7.47" text-anchor="middle">Sapling ground diameter/ mm</text>
</g>
<g>
<path d="M409.7 371.9V363.7M406.05 363.7H413.35" stroke="#646464" stroke-width="0.65" fill="none"/>
<path d="M409.7 390.1V394.1M406.05 394.1H413.35" stroke="#646464" stroke-width="0.65" fill="none"/>
<rect x="402.4" y="371.9" width="14.6" height="18.2" fill="#a9dbf4" stroke="#3d5f74" stroke-width="0.65"/>
<path d="M402.4 382.3H417" stroke="#3d5f74" stroke-width="0.9"/>
<rect x="408.9" y="379.7" width="1.6" height="1.6" fill="none" stroke="#3d5f74" stroke-opacity="0.4" stroke-width="0.45"/>
<text transform="translate(410.2 363) scale(1.0 1)" font-size="7.6" text-anchor="middle">a</text>
<path d="M432.1 373.2V368.6M428.45 368.6H435.75" stroke="#646464" stroke-width="0.65" fill="none"/>
<path d="M432.1 383.2V386.3M428.45 386.3H435.75" stroke="#646464" stroke-width="0.65" fill="none"/>
<rect x="424.8" y="373.2" width="14.6" height="10" fill="#3dc3f3" stroke="#20566f" stroke-width="0.65"/>
<path d="M424.8 378.1H439.4" stroke="#20566f" stroke-width="0.9"/>
<rect x="431.3" y="377.2" width="1.6" height="1.6" fill="none" stroke="#20566f" stroke-opacity="0.4" stroke-width="0.45"/>
<text transform="translate(432.6 367.9) scale(1.0 1)" font-size="7.6" text-anchor="middle">a</text>
<path d="M454.5 320V305.5M450.85 305.5H458.15" stroke="#646464" stroke-width="0.65" fill="none"/>
<path d="M454.5 373.2V391.4M450.85 391.4H458.15" stroke="#646464" stroke-width="0.65" fill="none"/>
<rect x="447.2" y="320" width="14.6" height="53.2" fill="#f0a9c9" stroke="#684556" stroke-width="0.65"/>
<path d="M447.2 344.2H461.8" stroke="#684556" stroke-width="0.9"/>
<rect x="453.7" y="345.6" width="1.6" height="1.6" fill="none" stroke="#684556" stroke-opacity="0.4" stroke-width="0.45"/>
<text transform="translate(455 304.2) scale(1.0 1)" font-size="7.6" text-anchor="middle">a</text>
<path d="M476.9 383.5V373.2M473.25 373.2H480.55" stroke="#646464" stroke-width="0.65" fill="none"/>
<path d="M476.9 394.1V394.5M473.25 394.5H480.55" stroke="#646464" stroke-width="0.65" fill="none"/>
<rect x="469.6" y="383.5" width="14.6" height="10.6" fill="#e8728a" stroke="#6c343f" stroke-width="0.65"/>
<path d="M469.6 393.2H484.2" stroke="#6c343f" stroke-width="0.9"/>
<rect x="476.1" y="387.8" width="1.6" height="1.6" fill="none" stroke="#6c343f" stroke-opacity="0.4" stroke-width="0.45"/>
<text transform="translate(477.4 371.9) scale(1.0 1)" font-size="7.6" text-anchor="middle">a</text>
<path d="M499.3 368.3V365M495.65 365H502.95" stroke="#646464" stroke-width="0.65" fill="none"/>
<path d="M499.3 384.5V389.2M495.65 389.2H502.95" stroke="#646464" stroke-width="0.65" fill="none"/>
<rect x="492" y="368.3" width="14.6" height="16.2" fill="#c1e2ab" stroke="#4c6040" stroke-width="0.65"/>
<path d="M492 375.4H506.6" stroke="#4c6040" stroke-width="0.9"/>
<rect x="498.5" y="375.1" width="1.6" height="1.6" fill="none" stroke="#4c6040" stroke-opacity="0.4" stroke-width="0.45"/>
<text transform="translate(499.8 363.3) scale(1.0 1)" font-size="7.6" text-anchor="middle">a</text>
<path d="M521.7 356.8V356.5M518.05 356.5H525.35" stroke="#646464" stroke-width="0.65" fill="none"/>
<path d="M521.7 377.7V379M518.05 379H525.35" stroke="#646464" stroke-width="0.65" fill="none"/>
<rect x="514.4" y="356.8" width="14.6" height="20.9" fill="#66d08a" stroke="#2d5f40" stroke-width="0.65"/>
<path d="M514.4 366.8H529" stroke="#2d5f40" stroke-width="0.9"/>
<rect x="520.9" y="366" width="1.6" height="1.6" fill="none" stroke="#2d5f40" stroke-opacity="0.4" stroke-width="0.45"/>
<text transform="translate(522.2 354.1) scale(1.0 1)" font-size="7.6" text-anchor="middle">a</text>
<path d="M398.5 290.9V398.3H533" stroke="#383838" stroke-width="1" fill="none" stroke-linecap="square"/>
<path d="M398.5 387.7h2.2M398.5 373.87h2.2M398.5 360.04h2.2M398.5 346.21h2.2M398.5 332.38h2.2M398.5 318.55h2.2M398.5 304.72h2.2M398.5 290.89h2.2M409.7 398.3v-2.2M432.1 398.3v-2.2M454.5 398.3v-2.2M476.9 398.3v-2.2M499.3 398.3v-2.2M521.7 398.3v-2.2" stroke="#383838" stroke-width="0.9" fill="none"/>
<text transform="translate(395.7 390.15) scale(0.97 1)" font-size="7.22" text-anchor="end">2</text>
<text transform="translate(395.7 376.32) scale(0.97 1)" font-size="7.22" text-anchor="end">4</text>
<text transform="translate(395.7 362.49) scale(0.97 1)" font-size="7.22" text-anchor="end">6</text>
<text transform="translate(395.7 348.66) scale(0.97 1)" font-size="7.22" text-anchor="end">8</text>
<text transform="translate(395.7 334.83) scale(0.97 1)" font-size="7.22" text-anchor="end">10</text>
<text transform="translate(395.7 321) scale(0.97 1)" font-size="7.22" text-anchor="end">12</text>
<text transform="translate(395.7 307.17) scale(0.97 1)" font-size="7.22" text-anchor="end">14</text>
<text transform="translate(395.7 293.34) scale(0.97 1)" font-size="7.22" text-anchor="end">16</text>
<text transform="translate(409.7 406.9) scale(0.97 1)" font-size="7.22" text-anchor="middle">I</text>
<text transform="translate(432.1 406.9) scale(0.97 1)" font-size="7.22" text-anchor="middle">II</text>
<text transform="translate(454.5 406.9) scale(0.97 1)" font-size="7.22" text-anchor="middle">III</text>
<text transform="translate(476.9 406.9) scale(0.97 1)" font-size="7.22" text-anchor="middle">IV</text>
<text transform="translate(499.3 406.9) scale(0.97 1)" font-size="7.22" text-anchor="middle">V</text>
<text transform="translate(521.7 406.9) scale(0.97 1)" font-size="7.22" text-anchor="middle">VI</text>
<text transform="translate(386.2 344.6) rotate(-90) scale(0.97 1)" font-size="7.47" text-anchor="middle">Total ground diameter/ mm</text>
</g>
<text transform="translate(278.7 424.8) scale(0.97 1)" font-size="7.89" text-anchor="middle">Forest gap size class</text>
</svg>
</body></html>
